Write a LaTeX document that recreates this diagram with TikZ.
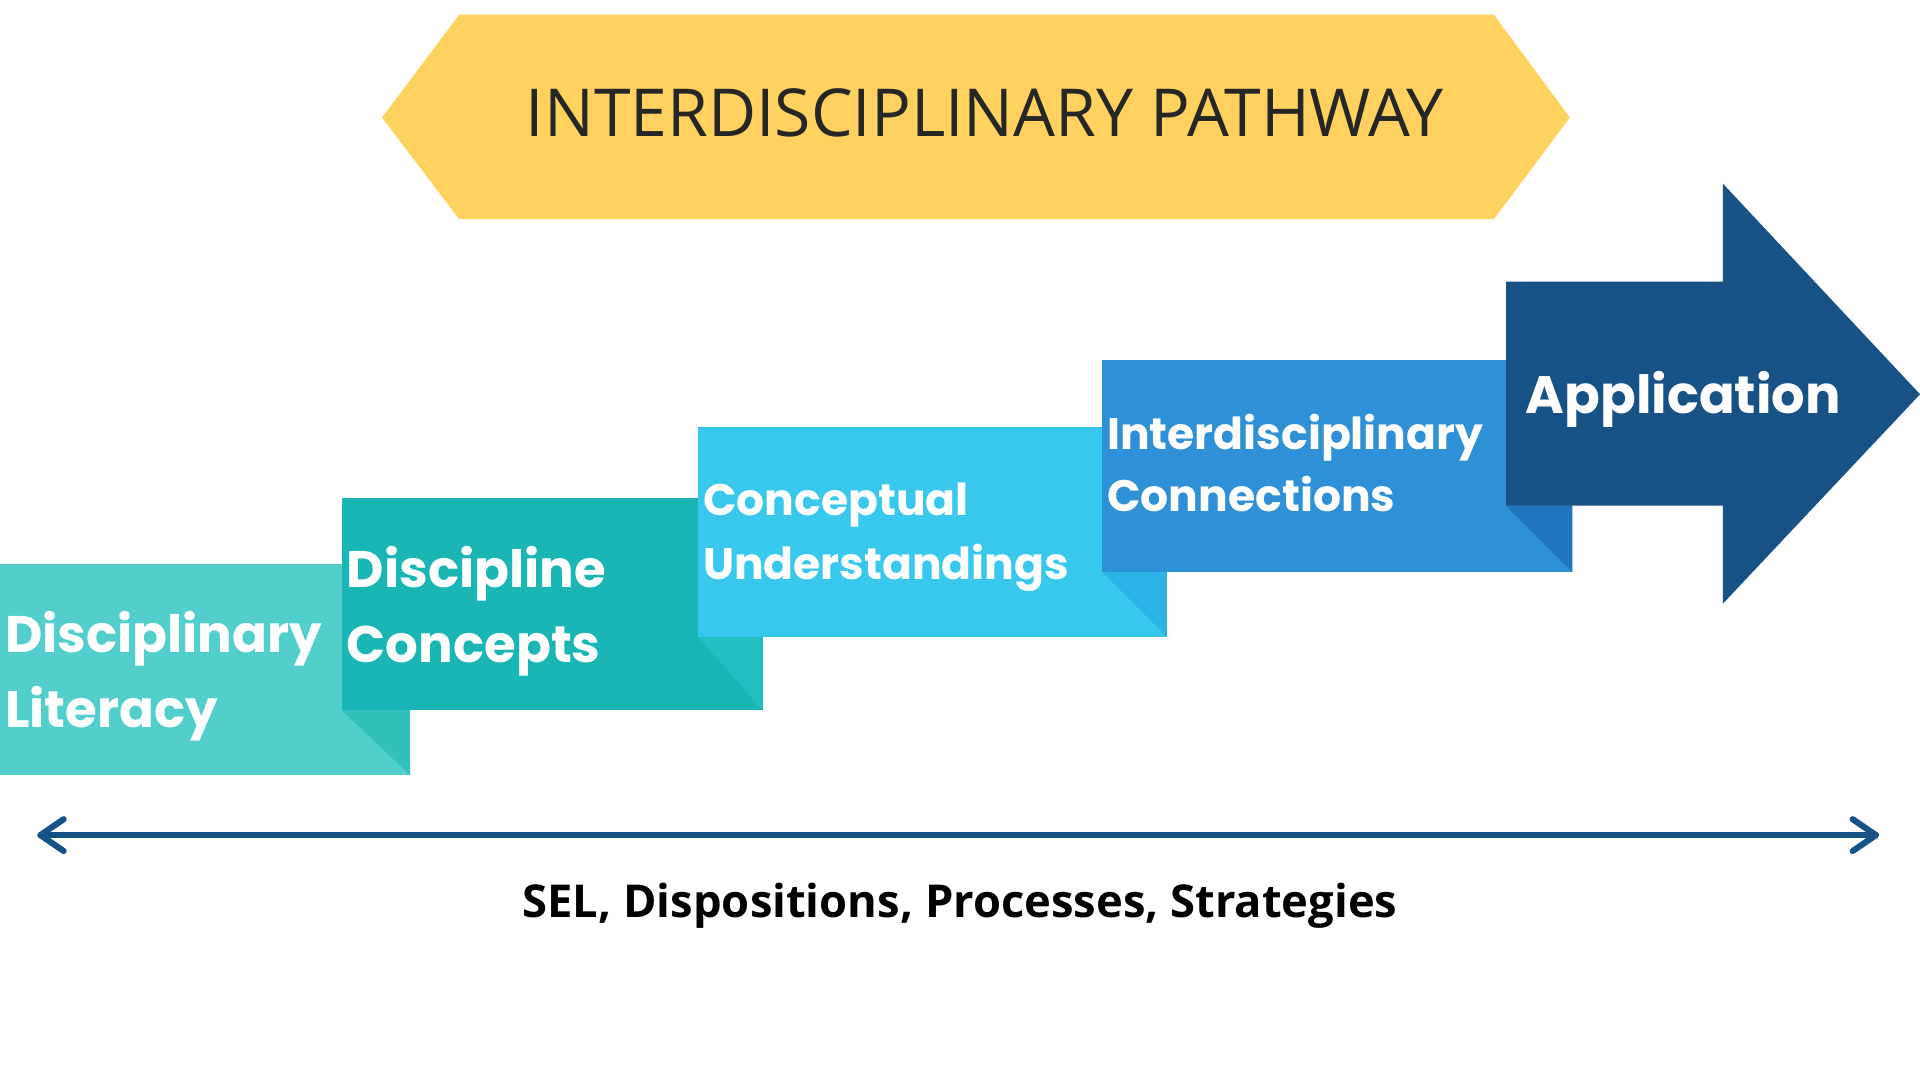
\documentclass[tikz,border=0pt]{standalone}
\usepackage{fontspec}
\setmainfont{Poppins}
\newfontfamily\titlefont{Open Sans}
\begin{document}
\begin{tikzpicture}[x=1pt,y=-1pt,
  lbl/.style={text=white,font=\bfseries\fontsize{#1}{#1}\selectfont,anchor=base west,inner sep=0pt}]
\definecolor{yel}{HTML}{FFD15E}
\definecolor{c1}{HTML}{52CECC}\definecolor{f1}{HTML}{33BFBB}
\definecolor{c2}{HTML}{1AB5B5}\definecolor{f2}{HTML}{22BEC2}
\definecolor{c3}{HTML}{38C8EE}\definecolor{f3}{HTML}{2BB2E6}
\definecolor{c4}{HTML}{2E90D6}\definecolor{f4}{HTML}{2176C0}
\definecolor{c5}{HTML}{175287}
\useasboundingbox[fill=white] (0,0) rectangle (1568,882);
\fill[yel] (312,96)--(375,12)--(1220,12)--(1282,96)--(1220,179)--(375,179)--cycle;
\node[text=black!85,font=\titlefont\fontsize{54}{54}\selectfont,inner sep=0pt] (title) at (804,92) {INTERDISCIPLINARY PATHWAY};
\fill[c1] (0,461) rectangle (335,633);
\fill[f1] (279,580)--(335,580)--(335,633)--cycle;
\fill[c2] (279,407) rectangle (623,580);
\fill[f2] (570,520)--(623,520)--(623,580)--cycle;
\fill[c3] (570,349) rectangle (953,520);
\fill[f3] (900,467)--(953,467)--(953,520)--cycle;
\fill[c4] (900,294) rectangle (1284,467);
\fill[f4] (1230,413)--(1284,413)--(1284,467)--cycle;
\fill[c5] (1230,230)--(1407,230)--(1407,150)--(1568,322)--(1407,493)--(1407,413)--(1230,413)--cycle;
\node[lbl=42] (l1a) at (4,533) {Disciplinary};
\node[lbl=42] (l1b) at (4,594) {Literacy};
\node[lbl=42] (l2a) at (283,480) {Discipline};
\node[lbl=42] (l2b) at (283,541) {Concepts};
\node[lbl=36] (l3a) at (574,421) {Conceptual};
\node[lbl=36] (l3b) at (574,473) {Understandings};
\node[lbl=36] (l4a) at (904,367) {Interdisciplinary};
\node[lbl=36] (l4b) at (904,418) {Connections};
\node[lbl=43] (l5) at (1246,338) {Application};
\coordinate (al) at (33,682); \coordinate (ar) at (1532,682);
\draw[c5,line width=5,line cap=round,line join=round] (al) -- (ar);
\draw[c5,line width=5,line cap=round,line join=round] (52,669)--(al)--(52,695);
\draw[c5,line width=5,line cap=round,line join=round] (1513,669)--(ar)--(1513,695);
\node[font=\titlefont\bfseries\fontsize{37}{37}\selectfont,inner sep=0pt,anchor=base] (bot) at (784,749) {SEL, Dispositions, Processes, Strategies};
\end{tikzpicture}
\end{document}
